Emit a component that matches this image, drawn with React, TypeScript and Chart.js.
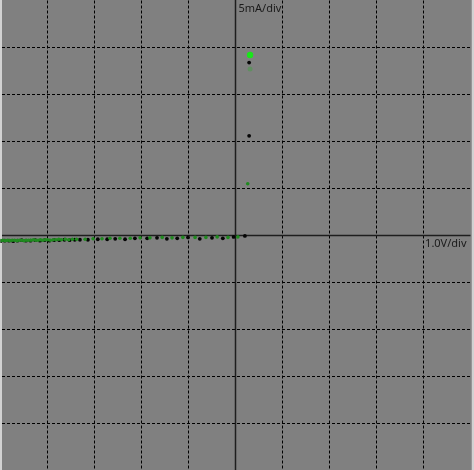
import {useEffect, useRef} from "react";
import Chart from "chart.js/auto";

// axis divisions (1.0 V/div, 5 mA/div)
const voltTicks = [-5, -4, -3, -2, -1, 0, 1, 2, 3, 4, 5];
const currentTicks = [-25, -20, -15, -10, -5, 0, 5, 10, 15, 20, 25];

// black trace: voltage (V) / current (mA)
const blackV = [-5.0, -4.91, -4.82, -4.73, -4.64, -4.55, -4.46, -4.36, -4.26, -4.16, -4.06, -3.96, -3.86, -3.75, -3.64,
    -3.53, -3.42, -3.31, -3.14, -2.93, -2.73, -2.56, -2.35, -2.14, -1.88, -1.67, -1.46, -1.24, -1.01, -0.76, -0.5, -0.27,
    -0.04, 0.2, 0.29, 0.29];
const blackI = [-0.6, -0.55, -0.55, -0.6, -0.55, -0.5, -0.55, -0.55, -0.5, -0.55, -0.5, -0.55, -0.5, -0.5, -0.45,
    -0.5, -0.45, -0.45, -0.45, -0.4, -0.4, -0.35, -0.4, -0.3, -0.3, -0.25, -0.35, -0.3, -0.2, -0.35, -0.25, -0.3,
    -0.15, -0.05, 10.6, 18.4];

// green trace
const greenV = [-5.0, -4.95, -4.9, -4.85, -4.8, -4.75, -4.7, -4.65, -4.6, -4.55, -4.5, -4.45, -4.4, -4.35, -4.3, -4.25,
    -4.2, -4.15, -4.1, -4.05, -4.0, -3.94, -3.88, -3.82, -3.76, -3.7, -3.62, -3.55, -3.47, -3.38, -3.2, -3.03, -2.84,
    -2.67, -2.46, -2.24, -2.03, -1.82, -1.56, -1.35, -1.12, -0.86, -0.63, -0.39, -0.16, 0.05, 0.26];
const greenI = [-0.55, -0.5, -0.55, -0.5, -0.55, -0.5, -0.5, -0.55, -0.5, -0.5, -0.55, -0.5, -0.5, -0.5, -0.45, -0.5,
    -0.5, -0.45, -0.5, -0.45, -0.45, -0.5, -0.45, -0.45, -0.4, -0.45, -0.4, -0.45, -0.4, -0.4, -0.4, -0.35, -0.35,
    -0.3, -0.3, -0.3, -0.25, -0.25, -0.2, -0.25, -0.2, -0.2, -0.2, -0.15, -0.2, -0.15, 5.5];

// current operating point marker
const markerV = [0.31];
const markerI = [19.2];
const trailV = [0.31];
const trailI = [17.7];

const toPoints = (xs: number[], ys: number[]) => xs.map((x, i) => ({x, y: ys[i]}));

const scopePlugin = {
    id: 'scope',
    beforeDatasetsDraw(chart: any) {
        const {ctx, chartArea, scales} = chart;
        const xs = scales.x;
        const ys = scales.y;
        ctx.save();
        ctx.fillStyle = '#d2d2d2';
        ctx.fillRect(0, 0, chart.width, chart.height);
        ctx.fillStyle = '#808080';
        ctx.fillRect(2, 0, chartArea.right - 2, chart.height);
        ctx.strokeStyle = '#5a5a5a';
        ctx.lineWidth = 1;
        ctx.beginPath();
        ctx.moveTo(chartArea.right + 0.5, 0);
        ctx.lineTo(chartArea.right + 0.5, chart.height);
        ctx.stroke();

        // dashed grid (inner divisions only)
        ctx.strokeStyle = '#000000';
        ctx.setLineDash([3, 2]);
        voltTicks.slice(1, -1).forEach(v => {
            if (v === 0) return;
            const px = xs.getPixelForValue(v);
            ctx.beginPath();
            ctx.moveTo(px, chartArea.top);
            ctx.lineTo(px, chartArea.bottom);
            ctx.stroke();
        });
        currentTicks.slice(1, -1).forEach(c => {
            if (c === 0) return;
            const py = ys.getPixelForValue(c);
            ctx.beginPath();
            ctx.moveTo(2, py);
            ctx.lineTo(chartArea.right, py);
            ctx.stroke();
        });

        // solid centre axes
        ctx.setLineDash([]);
        ctx.strokeStyle = '#1e1e1e';
        ctx.lineWidth = 1.5;
        const x0 = xs.getPixelForValue(0);
        const y0 = ys.getPixelForValue(0);
        ctx.beginPath();
        ctx.moveTo(x0, 0);
        ctx.lineTo(x0, chart.height);
        ctx.moveTo(2, y0);
        ctx.lineTo(chartArea.right, y0);
        ctx.stroke();

        ctx.fillStyle = '#1a1a1a';
        ctx.font = '11px "Noto Sans", "DejaVu Sans", sans-serif';
        ctx.textBaseline = 'top';
        ctx.textAlign = 'left';
        ctx.fillText('5mA/div', x0 + 3, 3);
        ctx.textAlign = 'right';
        ctx.fillText('1.0V/div', chartArea.right - 4, y0 + 3);
        ctx.restore();
    }
};

const App = () => {
    const canvasRef = useRef<HTMLCanvasElement>(null);

    useEffect(() => {
        document.body.style.margin = '0';
        document.body.style.overflow = 'hidden';
        const ctx = canvasRef.current;
        if (!ctx) return;

        const myChart = new Chart(ctx, {
            type: 'scatter',
            data: {
                datasets: [
                    {
                        data: toPoints(trailV, trailI),
                        backgroundColor: 'rgba(40,170,40,0.35)',
                        borderWidth: 0,
                        pointRadius: 2.5
                    },
                    {
                        data: toPoints(greenV, greenI),
                        backgroundColor: '#1f8a1f',
                        borderWidth: 0,
                        pointRadius: 1.8
                    },
                    {
                        data: toPoints(blackV, blackI),
                        backgroundColor: '#050505',
                        borderWidth: 0,
                        pointRadius: 1.9
                    },
                    {
                        data: toPoints(markerV, markerI),
                        backgroundColor: '#19e619',
                        borderWidth: 0,
                        pointRadius: 3.2
                    }
                ]
            },
            options: {
                animation: false,
                responsive: false,
                devicePixelRatio: 1,
                layout: {autoPadding: false, padding: {left: 0.5, top: 0.5, right: 3.5, bottom: 0.5}},
                plugins: {legend: {display: false}, tooltip: {enabled: false}},
                scales: {
                    x: {type: 'linear', display: false, min: -5, max: 5},
                    y: {type: 'linear', display: false, min: -25, max: 25}
                }
            },
            plugins: [scopePlugin]
        });
        return () => {
            myChart.destroy();
        };
    }, []);

    return (
        <div style={{width: 474, height: 470, overflow: 'hidden'}}>
            <canvas ref={canvasRef} width={474} height={471} style={{display: 'block'}}></canvas>
        </div>
    );
};
export default App;
